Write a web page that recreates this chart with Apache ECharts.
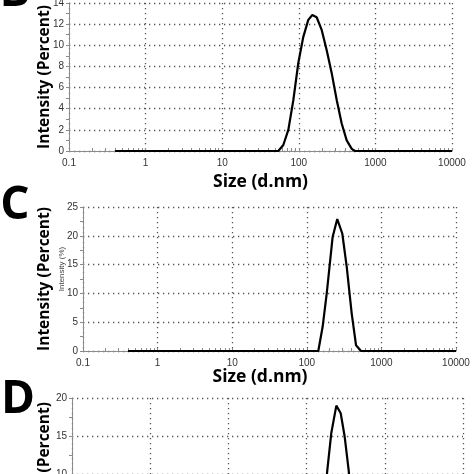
<!DOCTYPE html>
<html><head><meta charset="utf-8">
<script src="https://cdn.jsdelivr.net/npm/echarts@6/dist/echarts.min.js"></script>
<style>html,body{margin:0;padding:0;background:#fff;overflow:hidden;width:474px;height:474px}#c{width:474px;height:560px}</style>
</head><body><div id="c"></div>
<script>
// ---- data (size in d.nm, intensity in percent) ----
const sizesB = [0.4, 54, 62.8, 73, 84.8, 98.4, 114.5, 133, 150, 171, 199, 231, 269, 313, 363, 422, 491, 542, 10000];
const intensityB = [0, 0, 0.57, 2.0, 4.8, 8.3, 10.8, 12.4, 12.86, 12.65, 11.45, 9.55, 7.35, 4.8, 2.6, 1.0, 0.2, 0, 0];
const sizesC = [0.4, 142.6, 163, 185, 222, 256, 299, 343, 400, 457, 533, 10000];
const intensityC = [0, 0, 4.2, 10, 19.8, 22.9, 20.4, 14.6, 6.5, 1.0, 0, 0];
const sizesD = [0.4, 143, 165, 184, 207, 240, 273, 307, 345, 395, 450, 520, 10000];
const intensityD = [0, 0, 5.5, 10.5, 15.4, 19, 18, 14.9, 10.5, 4, 0.6, 0, 0];
const xTickLabels = ['0.1', '1', '10', '100', '1000', '10000'];
const yMaxB = 14, yStepB = 2;
const yMaxC = 25, yStepC = 5;
const yMaxD = 20, yStepD = 5;
const panelLetters = ['B', 'C', 'D'];
const xTitle = 'Size (d.nm)';
const yTitle = 'Intensity (Percent)';
const innerTitleC = 'Intensity (%)';

// minor tick positions: log10(k x 10^d) + 2 (shifted so the helper axis never contains 0)
const minorPos = [];
for (let d = -1; d < 4; d++) for (let k = 2; k <= 9; k++) minorPos.push(Math.log10(k * Math.pow(10, d)) + 2);

const pair = (xs, ys) => xs.map((x, i) => [x, ys[i]]);
const labelFmt = v => xTickLabels[Math.round(Math.log10(v)) + 1] || '';
const dotted = { color: '#555', width: 1.3, type: [1.3, 3.7] };
const tickFont = { fontFamily: 'Liberation Sans, Arial, sans-serif', fontSize: 10, color: '#333' };
const titleFont = { fontFamily: 'Open Sans', fontWeight: 'bold', color: '#000' };

const grids = [
  { left: 69, top: 3, width: 383, height: 148, outerBoundsMode: 'none', containLabel: false },
  { left: 83, top: 207, width: 373, height: 144, outerBoundsMode: 'none', containLabel: false },
  { left: 72, top: 398, width: 391, height: 152, outerBoundsMode: 'none', containLabel: false }
];
const ymax = [yMaxB, yMaxC, yMaxD], ystep = [yStepB, yStepC, yStepD];
const yGap = [16, 30, 19];
const xGap = [22, 17, 20];

const xAxes = [], yAxes = [];
grids.forEach((g, i) => {
  xAxes.push({
    type: 'log', logBase: 10, min: 0.1, max: 10000, gridIndex: i,
    position: 'bottom',
    name: xTitle, nameLocation: 'middle', nameGap: xGap[i], nameMoveOverlap: false,
    nameTextStyle: Object.assign({ fontSize: 17.5, padding: i === 1 ? [0, 19, 0, 0] : 0 }, titleFont),
    axisLine: { show: true, onZero: false, lineStyle: { color: '#8a8a8a', width: 1 } },
    axisTick: { show: true, inside: true, length: 3, lineStyle: { color: '#8a8a8a' } },
    axisLabel: Object.assign({ margin: 7, formatter: labelFmt }, tickFont),
    splitLine: { show: true, lineStyle: dotted }
  });
  xAxes.push({
    type: 'value', min: 1, max: 6, gridIndex: i, position: 'bottom', offset: 0,
    axisLine: { show: false, onZero: false },
    axisTick: { show: true, inside: true, length: 3, customValues: minorPos, lineStyle: { color: '#8a8a8a' } },
    axisLabel: { show: false },
    splitLine: { show: false }
  });
  yAxes.push({
    type: 'value', min: 0, max: ymax[i], interval: ystep[i], gridIndex: i,
    position: 'left',
    name: yTitle, nameLocation: 'middle', nameGap: yGap[i], nameMoveOverlap: false,
    nameTextStyle: Object.assign({ fontSize: 15.5 }, titleFont),
    axisLine: { show: true, onZero: false, lineStyle: { color: '#8a8a8a', width: 1 } },
    axisTick: { show: true, length: 3, lineStyle: { color: '#8a8a8a' } },
    minorTick: { show: true, splitNumber: 2, length: 3, lineStyle: { color: '#8a8a8a' } },
    axisLabel: Object.assign({ margin: 5 }, tickFont),
    splitLine: { show: true, lineStyle: dotted }
  });
});

const lineStyle = { color: '#000', width: 2.2 };
const series = [pair(sizesB, intensityB), pair(sizesC, intensityC), pair(sizesD, intensityD)].map((d, i) => ({
  type: 'line', xAxisIndex: i * 2, yAxisIndex: i, data: d, symbol: 'none',
  lineStyle: lineStyle, clip: true, animation: false
}));

const letterPos = [[15, -7], [15, 206], [18, 400]];
const graphic = panelLetters.map((t, i) => ({
  type: 'text', x: letterPos[i][0], y: letterPos[i][1],
  style: { text: t, font: 'bold 46px "Open Sans"', fill: '#000', textAlign: 'center', textVerticalAlign: 'middle' }
}));
graphic.push({
  type: 'text', x: 62, y: 269, rotation: Math.PI / 2,
  style: { text: innerTitleC, font: '8px "Liberation Sans"', fill: '#444', textAlign: 'center', textVerticalAlign: 'middle' }
});

const chart = echarts.init(document.getElementById('c'), null, { renderer: 'canvas' });
chart.setOption({
  animation: false,
  backgroundColor: '#fff',
  grid: grids,
  xAxis: xAxes,
  yAxis: yAxes,
  series: series,
  graphic: graphic
});
</script></body></html>
